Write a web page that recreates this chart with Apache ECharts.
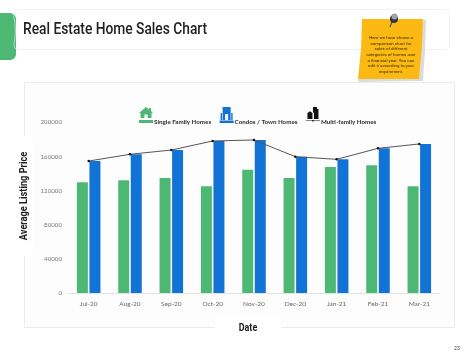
<!DOCTYPE html>
<html><head><meta charset="utf-8">
<style>html,body{margin:0;padding:0;background:#fff}#c{width:474px;height:355px}</style>
<script src="https://cdn.jsdelivr.net/npm/echarts@6/dist/echarts.min.js"></script>
</head><body><div id="c"></div>
<script>
const categories = ['Jul-20','Aug-20','Sep-20','Oct-20','Nov-20','Dec-20','Jan-21','Feb-21','Mar-21'];
const singleFamily = [129800,132200,134900,125200,144600,134900,147800,149800,125200];
const condos = [154800,162700,167700,178300,179500,159900,156800,169700,174800];
const multiFamily = [154800,162700,167700,178300,179500,159900,156800,169700,174800];
const yTicks = [0,40000,80000,120000,160000,200000];
const title = 'Real Estate Home Sales Chart';
const note = ['Here we have shown a','comparison chart for','sales of different','categories of homes over','a financial year. You can','edit it according to your','requirement.'];

// Each icon ends with a tiny mark at y=30 so the glyph sits in the top of a taller legend box.
const tail = ' M0 29.98 L0.02 29.98 L0.02 30 L0 30 Z M14 29.98 L13.98 29.98 L13.98 30 L14 30 Z';
const houseIcon = 'path://M7 0 L10 2.4 L10 1 L12 1 L12 4 L14 6 L12.5 6 L12.5 11 L8.6 11 L8.6 7.5 L5.4 7.5 L5.4 11 L1.5 11 L1.5 6 L0 6 Z M0 13 L14 13 L14 16 L0 16 Z' + tail;
const towerIcon = 'path://M3 0 L11 0 L11 13 L8.5 13 L8.5 7 L5.5 7 L5.5 13 L3 13 Z M1 6 L2.4 6 L2.4 13 L1 13 Z M11.6 6 L13 6 L13 13 L11.6 13 Z M0 13.5 L14 13.5 L14 16 L0 16 Z' + tail;
const blocksIcon = 'path://M7 0 L11 0 L11 2 L12.5 2 L12.5 12 L8 12 L8 6 L7 5 Z M1.5 6 L4 4.2 L6.5 6 L6.5 12 L1.5 12 Z M0 13.4 L6 13.4 L7 12.7 L8 13.4 L14 13.4 L14 14 L8 14 L7 14.7 L6 14 L0 14 Z' + tail;

const smallFont = 'Lato';
const chart = echarts.init(document.getElementById('c'), null, {renderer:'canvas'});
chart.setOption({
  animation:false,
  backgroundColor:'#fff',
  textStyle:{fontFamily:smallFont},
  grid:{left:68,right:34,top:122.5,bottom:62},
  legend:{
    left:139, top:107, itemWidth:14, itemHeight:30, itemGap:8.5, padding:0,
    selectedMode:false,
    textStyle:{fontFamily:smallFont,fontSize:6.2,fontWeight:900,color:'#3c3c3c',padding:[0,0,0,-4]},
    data:[
      {name:'Single Family Homes',icon:houseIcon},
      {name:'Condos / Town Homes',icon:towerIcon},
      {name:'Multi-family Homes',icon:blocksIcon}
    ]
  },
  xAxis:{
    type:'category',data:categories,
    axisLine:{lineStyle:{color:'#e2e2e2',width:1}},
    axisTick:{show:false},
    axisLabel:{color:'#666',fontSize:6.5,margin:7,interval:0}
  },
  yAxis:{
    type:'value',min:yTicks[0],max:yTicks[yTicks.length-1],interval:yTicks[1],
    splitLine:{show:false},axisLine:{show:false},axisTick:{show:false},
    axisLabel:{color:'#777',fontSize:6.2,margin:6,formatter:v=>String(v)}
  },
  series:[
    {name:'Single Family Homes',type:'bar',data:singleFamily,barWidth:11,barGap:'14%',itemStyle:{color:'#4cb873'}},
    {name:'Condos / Town Homes',type:'bar',data:condos,barWidth:11,itemStyle:{color:'#1273d6'}},
    {name:'Multi-family Homes',type:'line',data:multiFamily,symbol:'circle',symbolSize:2.5,z:5,
      lineStyle:{color:'#555',width:1},itemStyle:{color:'#111'}}
  ],
  graphic:[
    {type:'rect',z:-10,silent:true,shape:{x:24.5,y:82.5,width:430,height:245},style:{fill:'#fdfdfd',stroke:'#ececec',lineWidth:1}},
    {type:'rect',z:-8,silent:true,shape:{x:15,y:136,width:18,height:120,r:4},style:{fill:'#ffffff'}},
    {type:'rect',z:-8,silent:true,shape:{x:215,y:316,width:66,height:24,r:4},style:{fill:'#ffffff'}},
    {type:'rect',z:-10,silent:true,shape:{x:14.5,y:9.5,width:435,height:40,r:4},style:{fill:'#fff',stroke:'#f3f3f3',lineWidth:1}},
    {type:'rect',z:-7,silent:true,shape:{x:-10,y:13,width:26,height:47,r:6},style:{fill:'#4cb873'}},
    {type:'polyline',z:-6,silent:true,shape:{points:[[13,13],[15,24],[15,38],[14,44],[15,48],[18,50]],smooth:0.4},style:{fill:'none',stroke:'#d8efdf',lineWidth:0.7}},
    {type:'text',z:10,silent:true,x:23,y:29.5,scaleX:0.835,style:{x:0,y:0,text:title,fill:'#222',fontFamily:'Roboto',fontSize:16.5,fontWeight:500,verticalAlign:'middle'}},
    {type:'polygon',z:-4,silent:true,shape:{points:[[364,19],[426,20],[425,50],[423,81],[358,82]]},style:{fill:'#dcdcdc'}},
    {type:'polygon',z:-3,silent:true,shape:{points:[[362,19],[423,19],[422,45],[419,79],[358,79],[361,50]]},style:{fill:'#fdb913'}},
    {type:'circle',z:-2,silent:true,shape:{cx:394,cy:19,r:4},style:{fill:'#2f3542'}},
    {type:'circle',z:-1,silent:true,shape:{cx:394.5,cy:16.5,r:3},style:{fill:'#a0a3a8'}},
    {type:'line',z:-2,silent:true,shape:{x1:392,y1:22,x2:390,y2:27},style:{stroke:'#2f3542',lineWidth:1}},
    {type:'text',z:10,silent:true,style:{x:391,y:55,text:note.join('\n'),fill:'#3a2c00',fontFamily:'Roboto',fontSize:4.4,lineHeight:5.6,align:'center',verticalAlign:'middle'}},
    {type:'text',z:10,silent:true,rotation:Math.PI/2,x:24,y:196,scaleX:0.88,style:{x:0,y:0,text:'Average Listing Price',fill:'#222',fontFamily:'Roboto',fontSize:10.5,fontWeight:700,align:'center',verticalAlign:'middle'}},
    {type:'text',z:10,silent:true,x:248,y:328,scaleX:0.85,style:{x:0,y:0,text:'Date',fill:'#222',fontFamily:'Roboto',fontSize:10.5,fontWeight:700,align:'center',verticalAlign:'middle'}},
    {type:'text',z:10,silent:true,style:{x:457,y:348,text:'23',fill:'#444',fontFamily:'Lato',fontSize:5,align:'center',verticalAlign:'middle'}}
  ]
});
</script></body></html>
